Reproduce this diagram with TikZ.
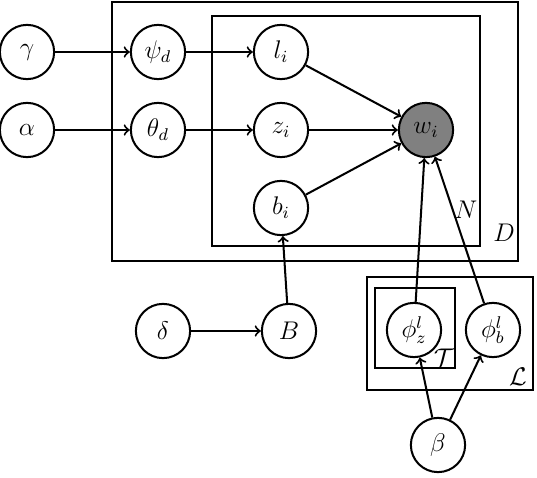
\documentclass[tikz,border=0pt]{standalone}
\usetikzlibrary{positioning}
\begin{document}
\begin{tikzpicture}[x=0.47pt,y=-0.47pt,line width=0.95pt,font=\large,
				latent/.style={circle,draw,minimum size=25.5pt,inner sep=0pt},
				obs/.style={latent,fill=black!50},
				plate/.style={draw},
				edge/.style={->}]
\useasboundingbox (0,0) rectangle (537,478);
% plates
\draw[plate] (112,2) rectangle (518,261);
\draw[plate] (212,16) rectangle (480,246);
\draw[plate] (367,277) rectangle (533,390);
\draw[plate] (375,288) rectangle (455,368);
\node (labN) at (466,210) {$N$};
\node (labD) at (504,233) {$D$};
\node (labT) at (444,358) {$\mathcal{T}$};
\node (labL) at (518,377) {$\mathcal{L}$};
% variables
\node[latent] (gamma) at (27,52) {$\gamma$};
\node[latent] (psi) at (158,52) {$\psi_d$};
\node[latent] (l) at (281,52) {$l_i$};
\node[latent] (alpha) at (27,130) {$\alpha$};
\node[latent] (theta) at (158,130) {$\theta_d$};
\node[latent] (z) at (281,130) {$z_i$};
\node[obs] (w) at (426,130) {$w_i$};
\node[latent] (b) at (281,208) {$b_i$};
\node[latent] (delta) at (163,331) {$\delta$};
\node[latent] (B) at (289,331) {$B$};
\node[latent] (phiz) at (414,330) {$\phi^l_z$};
\node[latent] (phib) at (493,330) {$\phi^l_b$};
\node[latent] (beta) at (438,445) {$\beta$};
% edges
\draw[edge] (gamma) -- (psi);
\draw[edge] (psi) -- (l);
\draw[edge] (alpha) -- (theta);
\draw[edge] (theta) -- (z);
\draw[edge] (l) -- (w);
\draw[edge] (z) -- (w);
\draw[edge] (b) -- (w);
\draw[edge] (delta) -- (B);
\draw[edge] (B) -- (b);
\draw[edge] (phiz) -- (w);
\draw[edge] (phib) -- (w);
\draw[edge] (beta) -- (phiz);
\draw[edge] (beta) -- (phib);
\end{tikzpicture}
\end{document}
